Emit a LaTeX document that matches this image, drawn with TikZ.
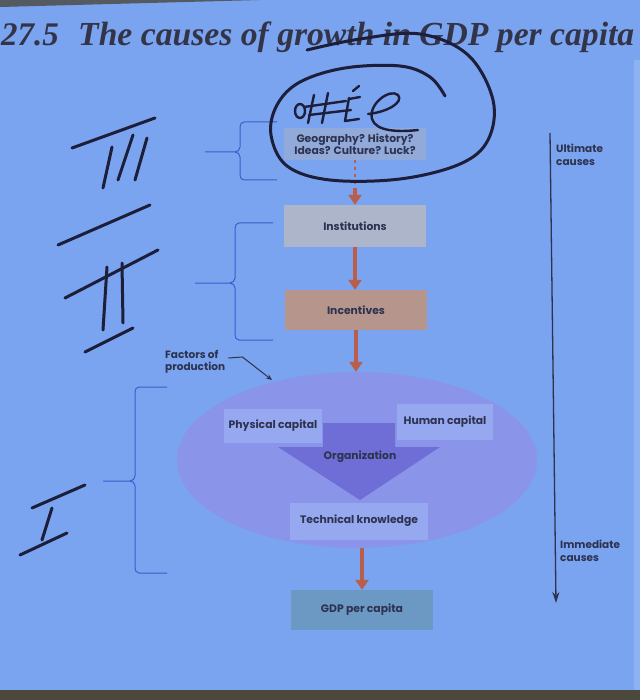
\documentclass[tikz,border=0pt]{standalone}
\usepackage{fontspec}
\setmainfont{Liberation Serif}
\newfontfamily\diag{Poppins}
\usetikzlibrary{arrows.meta,shapes.geometric}
\definecolor{bgc}{RGB}{122,163,240}
\definecolor{ellc}{RGB}{138,148,232}
\definecolor{innerc}{RGB}{150,168,240}
\definecolor{orgc}{RGB}{110,110,214}
\definecolor{geoc}{RGB}{146,170,218}
\definecolor{instc}{RGB}{172,181,202}
\definecolor{incc}{RGB}{182,150,140}
\definecolor{gdpc}{RGB}{108,152,196}
\definecolor{arrc}{RGB}{184,94,74}
\definecolor{txtc}{RGB}{45,50,78}
\definecolor{inkc}{RGB}{28,30,58}
\definecolor{bracec}{RGB}{55,95,205}
\definecolor{titlec}{RGB}{52,52,72}
\definecolor{darkband}{RGB}{76,72,60}
\tikzset{
  lbl/.style={font=\diag\bfseries\fontsize{10.8}{12}\selectfont, text=txtc, align=center, inner sep=1pt},
  box/.style={lbl, minimum width=142pt, minimum height=40pt, inner sep=0pt},
  redarr/.style={draw=arrc, line width=4.5pt, -{Triangle[width=13pt,length=10pt]}},
  ink/.style={draw=inkc, line width=3pt, line cap=round, line join=round},
  brace/.style={draw=bracec, line width=1pt},
  side/.style={lbl, align=left, anchor=north west, font=\diag\bfseries\fontsize{10.5}{13}\selectfont},
}
\newcommand\hbrace[6]{%
  \draw[brace] (#5,#2) -- (#1+4,#2) to[out=180,in=90] (#1,#2+5) -- (#1,#3-5) to[out=-90,in=0] (#1-5,#3) -- (#6,#3);
  \draw[brace] (#1-5,#3) to[out=0,in=90] (#1,#3+5) -- (#1,#4-5) to[out=-90,in=180] (#1+4,#4) -- (#5,#4);}
\begin{document}
\begin{tikzpicture}[x=1pt,y=-1pt]
\useasboundingbox (0,0) rectangle (640,700);
\clip (0,0) rectangle (640,700);
\fill[bgc] (0,0) rectangle (640,700);
\fill[darkband] (0,690) rectangle (640,700);
\fill[darkband!80!bgc] (0,0) -- (260,0) -- (0,7) -- cycle;
\fill[bgc!85!white] (634,60) rectangle (640,690);

% title
\node[anchor=base west, text=titlec, inner sep=0pt, font=\fontsize{33}{33}\selectfont\bfseries\itshape] (num) at (1,46) {27.5};
\node[anchor=base west, text=titlec, inner sep=0pt] (title) at (78,46)
  {\resizebox{556pt}{!}{\bfseries\itshape The causes of growth in GDP per capita}};

% boxes
\node[box, fill=geoc, minimum height=32pt] (geo) at (355,144) {Geography? History?\\Ideas? Culture? Luck?};
\node[box, fill=instc, minimum height=42pt] (inst) at (355,226) {Institutions};
\node[box, fill=incc] (inc) at (356,310) {Incentives};
\node[ellipse, fill=ellc, minimum width=360pt, minimum height=176pt, inner sep=0pt] (ell) at (357,460) {};
\node[lbl, fill=innerc, minimum width=98pt, minimum height=34pt] (phys) at (273,426) {Physical capital};
\node[lbl, fill=innerc, minimum width=96pt, minimum height=36pt] (hum) at (445,422) {Human capital};
\fill[orgc] (323,423) -- (395,423) -- (395,447) -- (440,447) -- (360,500) -- (278,447) -- (323,447) -- cycle;
\node[lbl] (org) at (360,457) {Organization};
\node[lbl, fill=innerc, minimum width=138pt, minimum height=37pt] (tech) at (359,521) {Technical knowledge};
\node[box, fill=gdpc] (gdp) at (362,610) {GDP per capita};

% connectors
\draw[draw=arrc, line width=2pt, dash pattern=on 3pt off 4pt] (geo.south) -- ++(0,28) coordinate (dend);
\draw[redarr] (dend) -- (dend |- inst.north);
\draw[redarr] (inst.south) -- (inst.south |- inc.north);
\draw[redarr] (inc.south) -- (inc.south |- ell.north);
\draw[redarr] (gdp.north |- ell.south) -- (gdp.north);

% factors of production
\node[lbl, align=left, anchor=north west, font=\diag\bfseries\fontsize{10.5}{12}\selectfont] (fac) at (164,349) {Factors of\\production};
\coordinate (fa) at (272,380);
\draw[draw=txtc, line width=1pt, -{Stealth[length=6pt,width=5pt]}] (fac.north east) ++(2,9) -- ++(14,-1) -- (fa);

% ultimate / immediate
\coordinate (ut) at (550,133);
\coordinate (ub) at (556,603);
\draw[draw=txtc, line width=1.3pt, -{Stealth[length=11pt,width=7pt]}] (ut) -- (ub);
\node[side] (ult) at (555,143) {Ultimate\\causes};
\node[side] (imm) at (559,539) {Immediate\\causes};

% braces
\hbrace{240}{122}{152}{180}{277}{205}
\hbrace{235}{223}{283}{340}{273}{195}
\hbrace{135}{387}{481}{573}{167}{103}

% handwritten loop
\draw[ink] plot[smooth, tension=0.6] coordinates {(307,50) (360,39) (420,34) (468,55) (493,100) (488,140) (460,164) (400,179) (330,180) (287,166) (271,135) (277,105) (300,82) (345,68) (400,66) (430,77) (445,96)};
% handwritten word
\draw[ink, line width=2.4pt] (300,111) ellipse (5 and 7);
\draw[ink, line width=2.4pt] (304,107) -- (346,101);
\draw[ink, line width=2.4pt] (309,115) -- (351,110);
\draw[ink, line width=2.4pt] (314,95) -- (308,123);
\draw[ink, line width=2.4pt] (328,93) -- (322,123);
\draw[ink, line width=2.4pt] (349,98) -- (345,121) -- (359,119);
\draw[ink, line width=2.4pt] (349,99) -- (360,97);
\draw[ink, line width=2.4pt] (353,91) -- (359,86);
\draw[ink, line width=2.4pt] (368,114) .. controls (388,112) and (404,102) .. (398,95) .. controls (390,88) and (368,104) .. (372,119) .. controls (376,132) and (400,132) .. (418,130);

% handwritten roman numerals
\draw[ink] (72,148) -- (155,118);
\draw[ink] (103,188) -- (112,147);
\draw[ink] (118,180) -- (133,135);
\draw[ink] (135,180) -- (147,138);
\draw[ink] (58,245) -- (150,205);
\draw[ink] (65,298) -- (158,250);
\draw[ink] (103,330) -- (107,267);
\draw[ink] (123,323) -- (122,263);
\draw[ink] (85,352) -- (133,328);
\draw[ink] (32,508) -- (85,485);
\draw[ink] (52,508) -- (42,540);
\draw[ink] (20,555) -- (67,533);
\end{tikzpicture}
\end{document}
